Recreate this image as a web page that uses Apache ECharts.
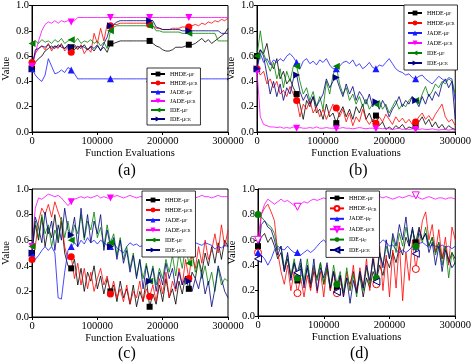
<!DOCTYPE html>
<html><head><meta charset="utf-8">
<script src="https://cdn.jsdelivr.net/npm/echarts@6/dist/echarts.min.js"></script>
<style>html,body{margin:0;padding:0;background:#fff}#c{width:474px;height:364px}</style>
</head><body><div id="c"></div>
<script>
// x grid: function evaluations sampled every 5000
const evals = Array.from({length: 61}, (_, i) => i * 5000);
const markIdx = [0, 12, 24, 36, 48];
const xTicks = [0, 100000, 200000, 300000];
const yTicks = [0.0, 0.2, 0.4, 0.6, 0.8, 1.0];
const seriesNames = ['HHDE-μF','HHDE-μCR','JADE-μF','JADE-μCR','IDE-μF','IDE-μCR'];
const panelTags = ['(a)','(b)','(c)','(d)'];

// ---------- panel (a) ----------
const a_hF = [0.50,0.55,0.58,0.60,0.64,0.66,0.68,0.66,0.69,0.67,
0.66,0.69,0.67,0.65,0.68,0.66,0.69,0.65,0.67,0.64,
0.68,0.65,0.67,0.63,0.70,0.70,0.71,0.72,0.72,0.72,
0.72,0.72,0.72,0.72,0.72,0.72,0.72,0.70,0.68,0.67,
0.65,0.64,0.64,0.65,0.67,0.67,0.67,0.68,0.69,0.69,
0.70,0.72,0.74,0.71,0.73,0.70,0.72,0.74,0.76,0.78,
0.82];
const a_hCR = [0.55,0.62,0.66,0.68,0.65,0.70,0.64,0.68,0.66,0.70,
0.64,0.67,0.63,0.68,0.65,0.69,0.62,0.66,0.63,0.78,
0.70,0.82,0.72,0.85,0.84,0.85,0.85,0.86,0.86,0.86,
0.86,0.86,0.86,0.86,0.86,0.86,0.85,0.84,0.82,0.82,
0.81,0.81,0.81,0.82,0.82,0.82,0.83,0.83,0.83,0.84,
0.85,0.84,0.86,0.85,0.87,0.86,0.88,0.87,0.89,0.88,
0.90];
const a_jF = [0.50,0.45,0.42,0.40,0.45,0.58,0.52,0.46,0.47,0.49,
0.47,0.51,0.49,0.46,0.42,0.42,0.42,0.42,0.42,0.42,
0.42,0.42,0.42,0.42,0.42,0.42,0.42,0.42,0.42,0.42,
0.42,0.42,0.42,0.42,0.42,0.42,0.42,0.42,0.42,0.42,
0.42,0.42,0.42,0.42,0.42,0.42,0.42,0.42,0.42,0.42,
0.42,0.42,0.42,0.42,0.42,0.42,0.42,0.42,0.42,0.42,
0.42];
const a_jCR = [0.52,0.62,0.72,0.80,0.85,0.87,0.86,0.88,0.86,0.88,
0.87,0.88,0.87,0.88,0.905,0.905,0.905,0.905,0.905,0.905,
0.905,0.905,0.905,0.905,0.905,0.905,0.905,0.905,0.905,0.905,
0.905,0.905,0.905,0.905,0.905,0.905,0.905,0.905,0.905,0.905,
0.905,0.905,0.905,0.905,0.905,0.905,0.905,0.905,0.905,0.905,
0.905,0.905,0.905,0.905,0.905,0.905,0.905,0.905,0.905,0.905,
0.905];
const a_iF = [0.70,0.72,0.70,0.73,0.71,0.72,0.70,0.73,0.71,0.74,
0.70,0.72,0.73,0.71,0.74,0.70,0.72,0.71,0.73,0.70,
0.72,0.68,0.71,0.66,0.80,0.83,0.84,0.84,0.84,0.84,
0.84,0.84,0.84,0.84,0.84,0.84,0.84,0.84,0.80,0.80,
0.79,0.79,0.79,0.79,0.79,0.79,0.78,0.78,0.78,0.78,
0.78,0.78,0.78,0.78,0.78,0.78,0.78,0.72,0.72,0.72,
0.72];
const a_iCR = [0.50,0.65,0.66,0.68,0.67,0.69,0.66,0.68,0.67,0.69,
0.66,0.68,0.67,0.69,0.66,0.68,0.67,0.65,0.68,0.66,
0.69,0.64,0.70,0.75,0.84,0.85,0.87,0.88,0.88,0.88,
0.88,0.88,0.88,0.88,0.88,0.88,0.88,0.88,0.83,0.82,
0.81,0.81,0.81,0.81,0.81,0.81,0.80,0.80,0.80,0.80,
0.80,0.80,0.80,0.80,0.80,0.80,0.80,0.80,0.78,0.78,
0.78];

// ---------- panel (b) ----------
const b_hF = [0.60,0.65,0.62,0.70,0.55,0.50,0.58,0.42,0.48,0.38,
0.42,0.35,0.30,0.22,0.10,0.25,0.20,0.28,0.15,0.18,
0.10,0.22,0.12,0.15,0.07,0.15,0.20,0.12,0.18,0.10,
0.20,0.15,0.22,0.10,0.15,0.08,0.13,0.05,0.08,0.02,
0.04,0.02,0.05,0.03,0.06,0.02,0.04,0.03,0.05,0.08,
0.12,0.06,0.10,0.04,0.08,0.03,0.06,0.02,0.05,0.03,
0.02];
const b_hCR = [0.50,0.45,0.48,0.38,0.42,0.35,0.40,0.30,0.33,0.28,
0.36,0.30,0.25,0.12,0.22,0.18,0.25,0.15,0.20,0.12,
0.18,0.10,0.16,0.22,0.19,0.12,0.18,0.08,0.15,0.05,
0.12,0.08,0.18,0.10,0.06,0.10,0.07,0.12,0.08,0.14,
0.10,0.06,0.12,0.08,0.11,0.07,0.10,0.06,0.08,0.12,
0.15,0.10,0.13,0.09,0.14,0.18,0.22,0.12,0.08,0.10,
0.05];
const b_jF = [0.50,0.62,0.55,0.58,0.53,0.57,0.55,0.58,0.56,0.60,
0.62,0.59,0.55,0.50,0.56,0.58,0.54,0.56,0.53,0.57,
0.55,0.58,0.53,0.50,0.50,0.52,0.55,0.56,0.54,0.57,
0.52,0.54,0.50,0.52,0.55,0.51,0.50,0.53,0.52,0.55,
0.58,0.54,0.50,0.48,0.47,0.45,0.46,0.43,0.42,0.44,
0.45,0.42,0.40,0.38,0.41,0.44,0.42,0.40,0.43,0.42,
0.25];
const b_jCR = [0.48,0.12,0.06,0.05,0.04,0.04,0.035,0.04,0.03,0.035,
0.03,0.04,0.03,0.035,0.03,0.03,0.035,0.03,0.04,0.03,
0.03,0.035,0.03,0.03,0.025,0.03,0.035,0.03,0.03,0.025,
0.03,0.035,0.03,0.025,0.03,0.03,0.025,0.03,0.025,0.03,
0.025,0.02,0.025,0.03,0.02,0.025,0.02,0.025,0.02,0.02,
0.025,0.02,0.02,0.025,0.02,0.015,0.02,0.02,0.015,0.02,
0.015];
const b_iF = [0.60,0.80,0.62,0.55,0.48,0.55,0.42,0.50,0.35,0.48,
0.40,0.52,0.52,0.40,0.30,0.35,0.25,0.32,0.20,0.28,
0.18,0.40,0.30,0.45,0.52,0.38,0.30,0.35,0.25,0.30,
0.22,0.28,0.20,0.26,0.18,0.22,0.22,0.25,0.18,0.22,
0.15,0.20,0.25,0.18,0.22,0.20,0.25,0.28,0.25,0.22,
0.30,0.36,0.28,0.32,0.38,0.35,0.40,0.38,0.42,0.40,
0.30];
const b_iCR = [0.50,0.65,0.60,0.45,0.30,0.40,0.28,0.38,0.25,0.35,
0.30,0.42,0.45,0.32,0.25,0.30,0.22,0.28,0.20,0.25,
0.30,0.42,0.35,0.40,0.43,0.35,0.28,0.38,0.30,0.36,
0.25,0.32,0.28,0.22,0.30,0.20,0.24,0.18,0.25,0.20,
0.12,0.18,0.22,0.28,0.20,0.25,0.22,0.28,0.25,0.20,
0.28,0.22,0.30,0.25,0.32,0.28,0.38,0.42,0.35,0.40,
0.10];

// ---------- panel (c) ----------
const c_hF = [0.50,0.72,0.60,0.78,0.55,0.70,0.62,0.80,0.58,0.75,
0.50,0.40,0.38,0.45,0.25,0.38,0.20,0.35,0.28,0.40,
0.22,0.32,0.18,0.30,0.20,0.25,0.12,0.28,0.15,0.22,
0.10,0.25,0.08,0.20,0.12,0.30,0.08,0.18,0.10,0.25,
0.12,0.30,0.15,0.22,0.10,0.28,0.18,0.32,0.22,0.35,
0.30,0.45,0.35,0.50,0.40,0.55,0.42,0.58,0.45,0.60,
0.55];
const c_hCR = [0.45,0.55,0.75,0.85,0.80,0.88,0.78,0.90,0.82,0.75,
0.55,0.45,0.47,0.30,0.42,0.25,0.38,0.22,0.35,0.20,
0.30,0.38,0.25,0.32,0.18,0.28,0.15,0.22,0.12,0.25,
0.10,0.20,0.15,0.28,0.12,0.22,0.16,0.25,0.12,0.30,
0.18,0.35,0.15,0.28,0.20,0.38,0.25,0.45,0.30,0.50,
0.38,0.55,0.42,0.60,0.45,0.52,0.65,0.50,0.72,0.55,
0.68];
const c_jF = [0.50,0.45,0.48,0.52,0.55,0.52,0.55,0.50,0.15,0.14,
0.35,0.52,0.55,0.58,0.55,0.60,0.57,0.62,0.58,0.60,
0.57,0.60,0.58,0.56,0.55,0.58,0.54,0.52,0.50,0.55,
0.58,0.56,0.57,0.55,0.56,0.53,0.55,0.57,0.55,0.58,
0.56,0.55,0.57,0.55,0.54,0.56,0.55,0.57,0.55,0.56,
0.58,0.57,0.56,0.58,0.57,0.56,0.53,0.55,0.54,0.56,
0.55];
const c_jCR = [0.55,0.85,0.93,0.92,0.94,0.96,0.95,0.94,0.95,0.93,
0.90,0.87,0.90,0.92,0.93,0.94,0.93,0.94,0.93,0.94,
0.95,0.93,0.94,0.93,0.93,0.94,0.95,0.94,0.93,0.94,
0.95,0.94,0.93,0.94,0.94,0.95,0.94,0.93,0.94,0.95,
0.94,0.93,0.94,0.95,0.94,0.94,0.93,0.94,0.95,0.94,
0.93,0.94,0.95,0.94,0.94,0.93,0.94,0.95,0.94,0.94,
0.94];
const c_iF = [0.55,0.75,0.62,0.80,0.65,0.72,0.55,0.68,0.60,0.78,
0.62,0.75,0.60,0.72,0.65,0.80,0.60,0.75,0.68,0.82,
0.62,0.70,0.55,0.72,0.58,0.65,0.48,0.62,0.45,0.55,
0.38,0.50,0.32,0.45,0.30,0.42,0.28,0.40,0.25,0.38,
0.30,0.45,0.35,0.48,0.32,0.50,0.38,0.55,0.42,0.50,
0.35,0.45,0.30,0.40,0.25,0.35,0.20,0.38,0.25,0.30,
0.28];
const c_iCR = [0.50,0.78,0.70,0.58,0.82,0.65,0.75,0.52,0.72,0.60,
0.85,0.68,0.64,0.78,0.55,0.85,0.62,0.80,0.58,0.75,
0.65,0.80,0.52,0.68,0.55,0.62,0.45,0.60,0.42,0.52,
0.35,0.48,0.30,0.45,0.22,0.40,0.28,0.38,0.20,0.35,
0.25,0.42,0.30,0.38,0.22,0.35,0.25,0.32,0.28,0.20,
0.30,0.22,0.35,0.18,0.28,0.08,0.22,0.40,0.30,0.20,
0.15];

// ---------- panel (d) ----------
const d_hF = [0.55,0.62,0.65,0.58,0.62,0.55,0.45,0.50,0.35,0.45,
0.30,0.42,0.28,0.40,0.25,0.38,0.22,0.35,0.30,0.42,
0.25,0.38,0.20,0.35,0.22,0.32,0.18,0.30,0.25,0.35,
0.20,0.32,0.15,0.30,0.22,0.35,0.28,0.40,0.32,0.45,
0.38,0.50,0.42,0.55,0.48,0.62,0.55,0.68,0.58,0.70,
0.60,0.65,0.55,0.62,0.50,0.58,0.45,0.55,0.42,0.50,
0.45];
const d_hCR = [0.50,0.80,0.85,0.88,0.82,0.75,0.50,0.35,0.25,0.40,
0.20,0.35,0.18,0.30,0.15,0.32,0.20,0.38,0.18,0.35,
0.15,0.40,0.20,0.35,0.18,0.30,0.15,0.35,0.20,0.40,
0.18,0.38,0.22,0.45,0.20,0.50,0.25,0.55,0.20,0.48,
0.15,0.52,0.22,0.58,0.12,0.50,0.28,0.60,0.37,0.55,
0.75,0.82,0.60,0.72,0.50,0.68,0.45,0.62,0.40,0.70,
0.60];
const d_jF = [0.50,0.48,0.45,0.40,0.45,0.52,0.55,0.53,0.52,0.55,
0.52,0.50,0.50,0.48,0.50,0.52,0.50,0.52,0.55,0.58,
0.60,0.57,0.58,0.55,0.55,0.53,0.55,0.52,0.54,0.52,
0.53,0.50,0.52,0.54,0.52,0.55,0.55,0.57,0.60,0.58,
0.55,0.56,0.52,0.50,0.52,0.50,0.52,0.55,0.55,0.57,
0.58,0.56,0.54,0.56,0.55,0.54,0.56,0.54,0.55,0.53,
0.55];
const d_jCR = [0.60,0.80,0.88,0.92,0.90,0.88,0.90,0.92,0.90,0.91,
0.89,0.87,0.86,0.88,0.90,0.89,0.91,0.92,0.91,0.92,
0.93,0.92,0.93,0.92,0.93,0.92,0.93,0.92,0.93,0.94,
0.93,0.92,0.93,0.94,0.93,0.92,0.93,0.94,0.93,0.94,
0.93,0.92,0.93,0.94,0.93,0.94,0.95,0.94,0.95,0.93,
0.92,0.93,0.94,0.93,0.92,0.93,0.93,0.92,0.93,0.93,
0.92];
const d_iF = [0.80,0.78,0.75,0.72,0.70,0.65,0.52,0.55,0.38,0.48,
0.32,0.45,0.30,0.42,0.28,0.45,0.25,0.40,0.28,0.42,
0.25,0.38,0.22,0.40,0.25,0.35,0.18,0.38,0.20,0.32,
0.15,0.35,0.20,0.38,0.25,0.45,0.30,0.50,0.40,0.55,
0.45,0.62,0.50,0.65,0.55,0.70,0.58,0.68,0.55,0.65,
0.58,0.70,0.55,0.62,0.48,0.58,0.40,0.55,0.30,0.50,
0.40];
const d_iCR = [0.45,0.72,0.75,0.70,0.68,0.60,0.48,0.55,0.35,0.50,
0.28,0.42,0.34,0.45,0.22,0.40,0.25,0.45,0.20,0.38,
0.30,0.42,0.22,0.35,0.19,0.32,0.15,0.30,0.10,0.28,
0.18,0.35,0.22,0.40,0.28,0.45,0.27,0.50,0.38,0.60,
0.45,0.65,0.55,0.72,0.60,0.78,0.55,0.70,0.49,0.68,
0.60,0.65,0.50,0.58,0.40,0.55,0.35,0.52,0.45,0.38,
0.42];

const panelData = [
  [a_hF, a_hCR, a_jF, a_jCR, a_iF, a_iCR],
  [b_hF, b_hCR, b_jF, b_jCR, b_iF, b_iCR],
  [c_hF, c_hCR, c_jF, c_jCR, c_iF, c_iCR],
  [d_hF, d_hCR, d_jF, d_jCR, d_iF, d_iCR]
];

// ---------- styling / layout ----------
const FONT = '"Liberation Serif", "Times New Roman", serif';
const colors = ['#000000','#ff0000','#1a1aff','#ff00ff','#008000','#000080'];
// [symbol, rotate, hollow, size]
const symStd = [['rect',0,false,6],['circle',0,false,7],['triangle',0,false,7],['triangle',180,false,7],['triangle',90,false,7],['triangle',-90,false,7]];
const symD = [['rect',0,false,6],['circle',0,true,7],['triangle',0,false,7],['triangle',180,true,7],['circle',0,false,7],['triangle',90,true,7]];
const keys = ['a','b','c','d'];
const grids = [
  {left:27, top:5, width:201, height:127},
  {left:257, top:5, width:202, height:127},
  {left:27, top:189, width:201, height:128},
  {left:258, top:189, width:201, height:127}
];
const legendPos = [
  {left:147, top:68, padding:[3,3,3,3], itemGap:3},
  {left:404, top:5, padding:[5,3,4,3], itemGap:4},
  {left:142, top:191, padding:[6,3,4,3], itemGap:4},
  {left:326, top:191, padding:[4,3,4,3], itemGap:4}
];
const tagPos = [[128,172],[359,172],[128,355],[360,355]];

function richName(name) {
  const base = name.split('@')[0];
  const k = base.indexOf('μ');
  return '{m|' + base.slice(0, k + 1) + '}{s|' + base.slice(k + 1) + '}';
}

const xAxes = [], yAxes = [], series = [], legends = [], graphics = [];
grids.forEach((g, p) => {
  xAxes.push({
    type:'value', gridIndex:p, min:xTicks[0], max:xTicks[xTicks.length-1], interval:xTicks[1]-xTicks[0],
    name:'Function Evaluations', nameLocation:'middle', nameGap:12.5,
    nameTextStyle:{fontFamily:FONT, fontSize:10.5, color:'#000'},
    axisLine:{show:true, lineStyle:{color:'#000', width:1}},
    axisTick:{show:true, inside:false, length:3, lineStyle:{color:'#000'}},
    axisLabel:{fontFamily:FONT, fontSize:10.5, color:'#000', margin:4, formatter:v => String(v)},
    splitLine:{show:false}
  });
  yAxes.push({
    type:'value', gridIndex:p, min:yTicks[0], max:yTicks[yTicks.length-1], interval:0.2,
    name:'Value', nameLocation:'middle', nameGap:18,
    nameTextStyle:{fontFamily:FONT, fontSize:10.5, color:'#000'},
    axisLine:{show:true, lineStyle:{color:'#000', width:1}},
    axisTick:{show:true, inside:false, length:3, lineStyle:{color:'#000'}},
    axisLabel:{fontFamily:FONT, fontSize:10.5, color:'#000', margin:3, formatter:v => v.toFixed(1)},
    splitLine:{show:false}
  });
  const syms = p === 3 ? symD : symStd;
  panelData[p].forEach((arr, k) => {
    const [sym, rot, hollow, size] = syms[k];
    series.push({
      type:'line', name: seriesNames[k] + '@' + keys[p], xAxisIndex:p, yAxisIndex:p,
      data: evals.map((x, i) => [x, arr[i]]),
      symbol: sym, symbolRotate: rot, showSymbol:true, showAllSymbol:true,
      symbolSize: (v, params) => markIdx.includes(params.dataIndex) ? size : 0,
      lineStyle:{color:colors[k], width:0.8},
      itemStyle: hollow ? {color:'#ffffff', borderColor:colors[k], borderWidth:1} : {color:colors[k], borderWidth:0},
      emphasis:{disabled:true}, animation:false, silent:true
    });
  });
  const lp = legendPos[p];
  legends.push({
    data: seriesNames.map(n => n + '@' + keys[p]),
    orient:'vertical', left:lp.left, top:lp.top, padding:lp.padding, itemGap:lp.itemGap,
    itemWidth:14, itemHeight:6, selectedMode:false,
    backgroundColor:'#fff', borderColor:'#000', borderWidth:0.8,
    formatter: richName,
    textStyle:{fontFamily:FONT, fontSize:6, color:'#000', rich:{
      m:{fontFamily:FONT, fontSize:6, color:'#000', lineHeight:7},
      s:{fontFamily:FONT, fontSize:4.2, color:'#000', lineHeight:7, padding:[2,0,0,0]}
    }}
  });
  graphics.push({type:'text', left:tagPos[p][0] - 10, top:tagPos[p][1] - 9,
    style:{text:panelTags[p], font:'16px ' + FONT, fill:'#000'}});
});

const chart = echarts.init(document.getElementById('c'), null, {renderer:'canvas'});
chart.setOption({
  backgroundColor:'#fff',
  animation:false,
  grid: grids.map(g => Object.assign({show:true, borderColor:'#000', borderWidth:1, backgroundColor:'transparent'}, g)),
  xAxis:xAxes, yAxis:yAxes, series:series, legend:legends, graphic:graphics
});
</script></body></html>
